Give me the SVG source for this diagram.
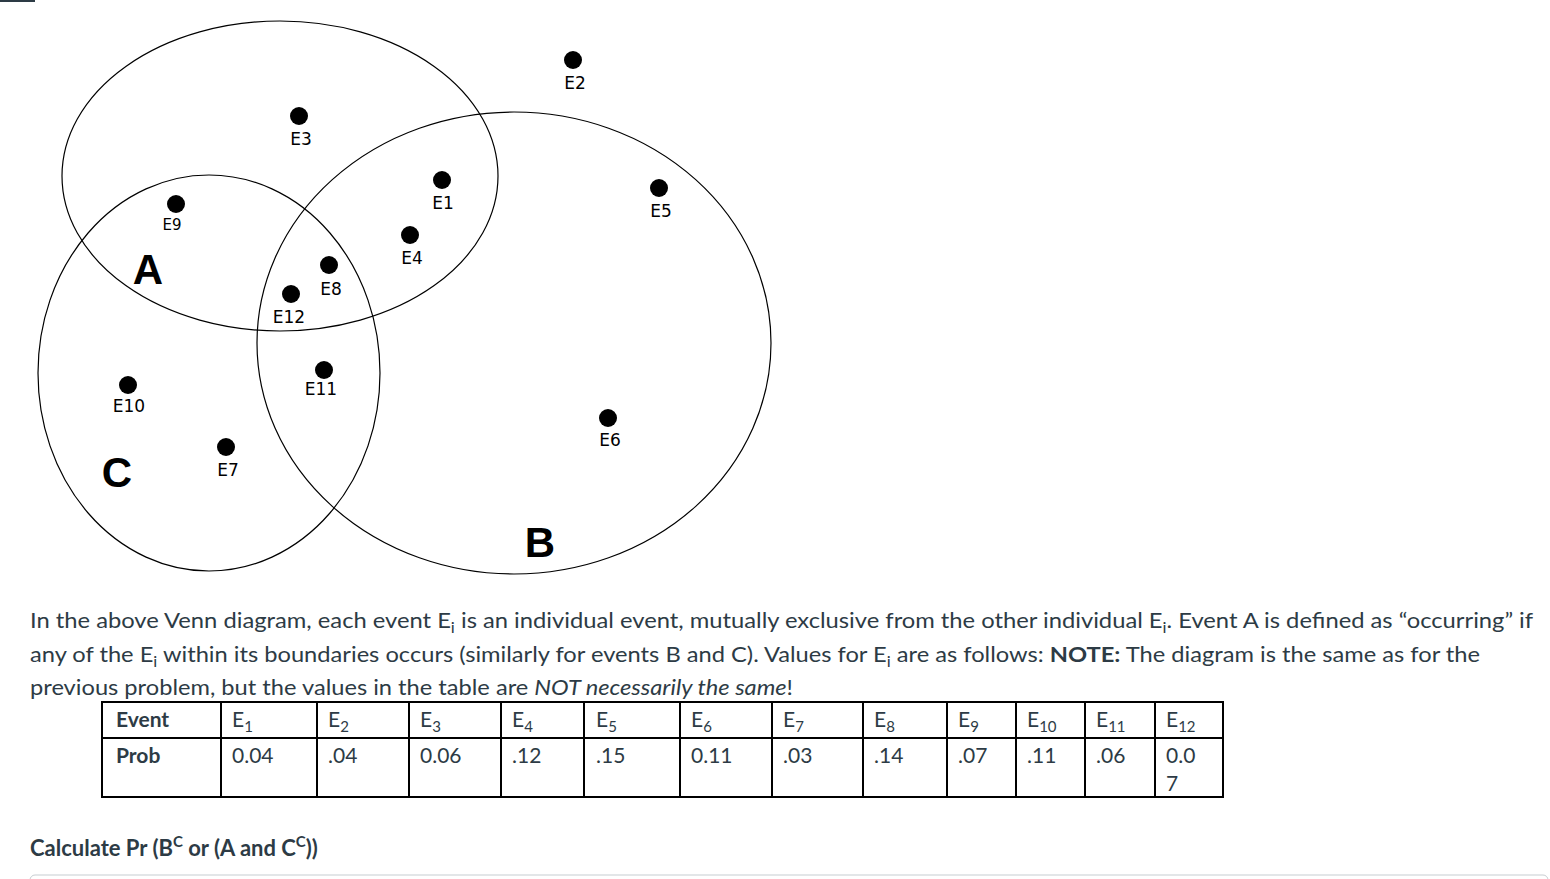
<svg xmlns="http://www.w3.org/2000/svg" width="1550" height="879" viewBox="0 0 1550 879">
<style>
.e{fill:none;stroke:#000;stroke-width:1.2}
.d{fill:#000}
.l{font-family:"DejaVu Sans",sans-serif;font-size:17px;fill:#000;text-anchor:middle}
.big{font-family:"Liberation Sans",sans-serif;font-size:42px;font-weight:bold;text-anchor:middle}
.p{font-family:Lato,"Liberation Sans",sans-serif;font-size:21.5px;fill:#2d3b45}
.t{font-family:Lato,"Liberation Sans",sans-serif;font-size:21px;fill:#2d3b45}
.s{font-size:15px}
.g{fill:none;stroke:#000;stroke-width:2}
</style>
<rect width="1550" height="879" fill="#fff"/>
<line x1="0" y1="1" x2="35" y2="1" stroke="#2d3b45" stroke-width="2"/>
<g id="venn">
<g id="A"><ellipse class="e" cx="280" cy="176" rx="218" ry="155"/><text class="big" x="148" y="284">A</text></g>
<g id="B"><ellipse class="e" cx="514" cy="343" rx="257" ry="231"/><text class="big" x="540" y="557">B</text></g>
<g id="C"><ellipse class="e" cx="209" cy="373" rx="171" ry="198"/><text class="big" x="117" y="487">C</text></g>
<g id="E2"><circle class="d" cx="573" cy="60" r="9"/><text class="l" x="575" y="89">E2</text></g>
<g id="E3"><circle class="d" cx="299" cy="116" r="9"/><text class="l" x="301" y="145">E3</text></g>
<g id="E1"><circle class="d" cx="442" cy="180" r="9"/><text class="l" x="443" y="209">E1</text></g>
<g id="E5"><circle class="d" cx="659" cy="188" r="9"/><text class="l" x="661" y="217">E5</text></g>
<g id="E9"><circle class="d" cx="176" cy="204" r="9"/><text class="l" x="172" y="230" style="font-size:15px">E9</text></g>
<g id="E4"><circle class="d" cx="410" cy="235" r="9"/><text class="l" x="412" y="264">E4</text></g>
<g id="E8"><circle class="d" cx="329" cy="265" r="9"/><text class="l" x="331" y="295">E8</text></g>
<g id="E12"><circle class="d" cx="291" cy="294" r="9"/><text class="l" x="289" y="323">E12</text></g>
<g id="E11"><circle class="d" cx="324" cy="370" r="9"/><text class="l" x="321" y="395">E11</text></g>
<g id="E10"><circle class="d" cx="128" cy="385" r="9"/><text class="l" x="129" y="412">E10</text></g>
<g id="E6"><circle class="d" cx="608" cy="418" r="9"/><text class="l" x="610" y="446">E6</text></g>
<g id="E7"><circle class="d" cx="226" cy="447" r="9"/><text class="l" x="228" y="476">E7</text></g>
</g>
<g id="connectors"/>
<g id="text">
<text class="p" x="30" y="628" textLength="1503" lengthAdjust="spacingAndGlyphs">In the above Venn diagram, each event E<tspan class="s" dy="5">i</tspan><tspan dy="-5"> is an individual event, mutually exclusive from the other individual E</tspan><tspan class="s" dy="5">i</tspan><tspan dy="-5">.  Event A is defined as “occurring” if</tspan></text>
<text class="p" x="30" y="662" textLength="1450" lengthAdjust="spacingAndGlyphs">any of the E<tspan class="s" dy="5">i</tspan><tspan dy="-5"> within its boundaries occurs (similarly for events B and C). Values for E</tspan><tspan class="s" dy="5">i</tspan><tspan dy="-5"> are as follows: </tspan><tspan font-weight="bold">NOTE:</tspan> The diagram is the same as for the</text>
<text class="p" x="30" y="695" textLength="763" lengthAdjust="spacingAndGlyphs">previous problem, but the values in the table are <tspan font-style="italic">NOT necessarily the same</tspan>!</text>
</g>
<g id="table">
<rect class="g" x="102" y="702" width="1121" height="95"/>
<line class="g" x1="102" y1="738" x2="1223" y2="738"/>
<path class="g" d="M221 702V797M317 702V797M409 702V797M501 702V797M584 702V797M680 702V797M772 702V797M863 702V797M947 702V797M1016 702V797M1085 702V797M1155 702V797"/>
<text class="t" x="116" y="727" font-weight="bold">Event</text>
<text class="t" x="116" y="763" font-weight="bold">Prob</text>
<g class="t">
<text class="t" x="232" y="727">E<tspan class="s" dy="5">1</tspan></text>
<text class="t" x="328" y="727">E<tspan class="s" dy="5">2</tspan></text>
<text class="t" x="420" y="727">E<tspan class="s" dy="5">3</tspan></text>
<text class="t" x="512" y="727">E<tspan class="s" dy="5">4</tspan></text>
<text class="t" x="596" y="727">E<tspan class="s" dy="5">5</tspan></text>
<text class="t" x="691" y="727">E<tspan class="s" dy="5">6</tspan></text>
<text class="t" x="783" y="727">E<tspan class="s" dy="5">7</tspan></text>
<text class="t" x="874" y="727">E<tspan class="s" dy="5">8</tspan></text>
<text class="t" x="958" y="727">E<tspan class="s" dy="5">9</tspan></text>
<text class="t" x="1027" y="727">E<tspan class="s" dy="5">10</tspan></text>
<text class="t" x="1096" y="727">E<tspan class="s" dy="5">11</tspan></text>
<text class="t" x="1166" y="727">E<tspan class="s" dy="5">12</tspan></text>
<text class="t" x="232" y="763">0.04</text>
<text class="t" x="328" y="763">.04</text>
<text class="t" x="420" y="763">0.06</text>
<text class="t" x="512" y="763">.12</text>
<text class="t" x="596" y="763">.15</text>
<text class="t" x="691" y="763">0.11</text>
<text class="t" x="783" y="763">.03</text>
<text class="t" x="874" y="763">.14</text>
<text class="t" x="958" y="763">.07</text>
<text class="t" x="1027" y="763">.11</text>
<text class="t" x="1096" y="763">.06</text>
<text class="t" x="1166" y="763">0.0</text>
<text class="t" x="1166" y="791">7</text>
</g>
</g>
<text class="t" x="30" y="856" font-weight="bold" style="font-size:22px">Calculate Pr (B<tspan class="s" dy="-9">C</tspan><tspan dy="9"> or (A and C</tspan><tspan class="s" dy="-9">C</tspan><tspan dy="9">))</tspan></text>
<rect x="30" y="875" width="1518" height="20" rx="5" fill="none" stroke="#c7cdd1" stroke-width="1"/>
</svg>
